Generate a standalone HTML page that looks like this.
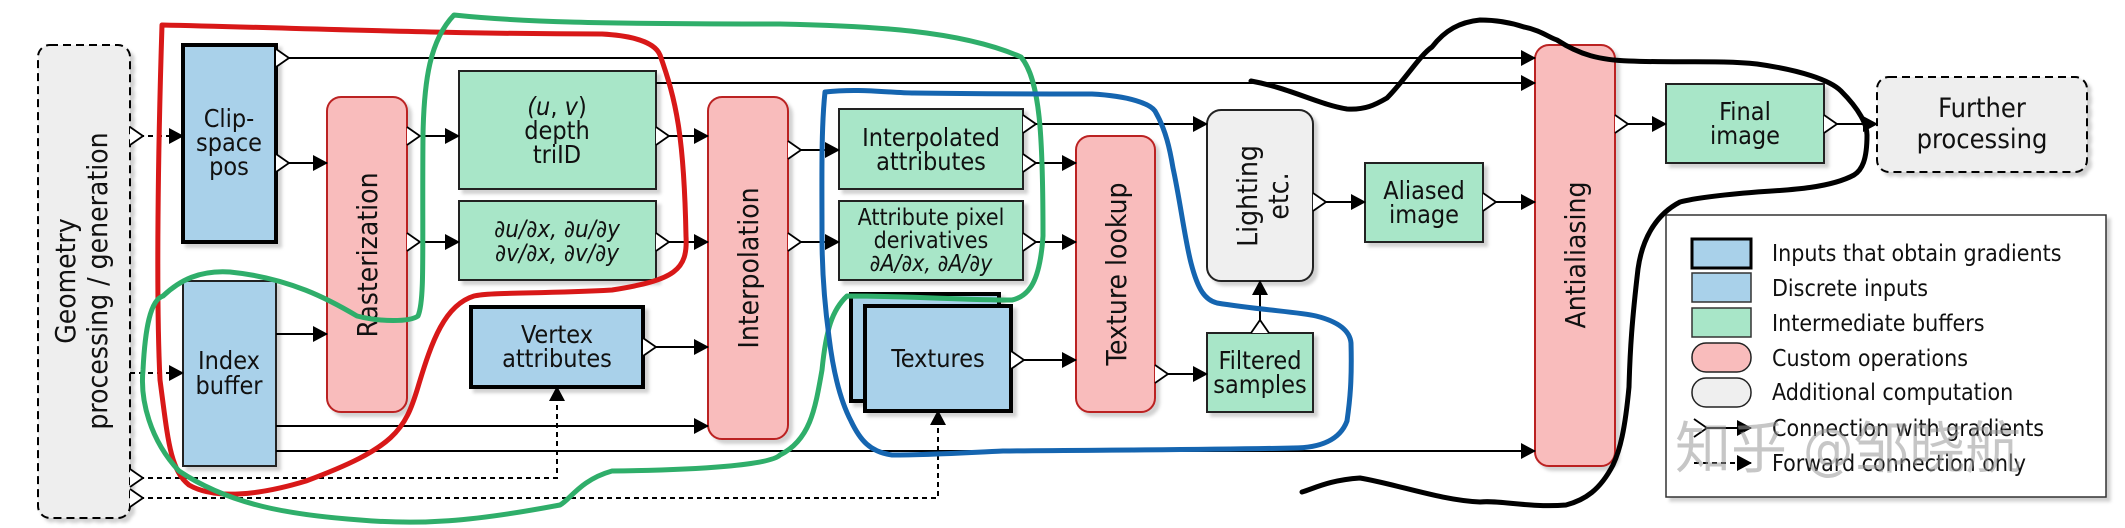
<!DOCTYPE html>
<html><head><meta charset="utf-8"><style>
html,body{margin:0;padding:0;background:#fff;}
svg{display:block;}
text{font-family:"DejaVu Sans Condensed","DejaVu Sans","Liberation Sans",sans-serif;fill:#111;}
</style></head><body>
<svg width="2125" height="528" viewBox="0 0 2125 528" xmlns="http://www.w3.org/2000/svg">
<defs>
<marker id="ah" markerUnits="userSpaceOnUse" markerWidth="16" markerHeight="16" refX="14" refY="8" orient="auto"><path d="M0,0 L15,8 L0,16 z" fill="#000"/></marker>
<marker id="os" markerUnits="userSpaceOnUse" markerWidth="16" markerHeight="20" refX="1" refY="10" orient="auto"><path d="M1,1 L14,10 L1,19" fill="#fff" stroke="#000" stroke-width="1.8"/></marker>
<filter id="sh" x="-10%" y="-10%" width="130%" height="130%"><feDropShadow dx="4" dy="4" stdDeviation="1.5" flood-color="#000" flood-opacity="0.18"/></filter>
</defs>

<g filter="url(#sh)">
<rect x="38" y="45" width="92" height="473" rx="12" fill="#eee" stroke="#000" stroke-width="2" stroke-dasharray="8,5"/>
<rect x="183" y="45" width="93" height="197" fill="#a9d1ea" stroke="#000" stroke-width="4"/>
<rect x="183" y="281" width="93" height="185" fill="#a9d1ea" stroke="#222" stroke-width="2"/>
<rect x="327" y="97" width="80" height="315" rx="14" fill="#f9bcbc" stroke="#b22" stroke-width="2"/>
<rect x="459" y="71" width="197" height="118" fill="#a8e6c8" stroke="#222" stroke-width="2"/>
<rect x="459" y="201" width="197" height="79" fill="#a8e6c8" stroke="#222" stroke-width="2"/>
<rect x="471" y="307" width="172" height="80" fill="#a9d1ea" stroke="#000" stroke-width="4"/>
<rect x="708" y="97" width="80" height="342" rx="14" fill="#f9bcbc" stroke="#b22" stroke-width="2"/>
<rect x="839" y="109" width="184" height="80" fill="#a8e6c8" stroke="#222" stroke-width="2"/>
<rect x="839" y="201" width="184" height="79" fill="#a8e6c8" stroke="#222" stroke-width="2"/>
<rect x="851" y="294" width="148" height="107" fill="#a9d1ea" stroke="#000" stroke-width="4"/>
<rect x="865" y="306" width="146" height="105" fill="#a9d1ea" stroke="#000" stroke-width="4"/>
<rect x="1076" y="136" width="79" height="276" rx="14" fill="#f9bcbc" stroke="#b22" stroke-width="2"/>
<rect x="1207" y="110" width="106" height="171" rx="14" fill="#efefef" stroke="#222" stroke-width="2"/>
<rect x="1207" y="333" width="106" height="79" fill="#a8e6c8" stroke="#222" stroke-width="2"/>
<rect x="1365" y="163" width="118" height="79" fill="#a8e6c8" stroke="#222" stroke-width="2"/>
<rect x="1535" y="45" width="80" height="421" rx="14" fill="#f9bcbc" stroke="#b22" stroke-width="2"/>
<rect x="1666" y="84" width="158" height="79" fill="#a8e6c8" stroke="#222" stroke-width="2"/>
<rect x="1877" y="77" width="210" height="95" rx="12" fill="#eee" stroke="#000" stroke-width="2" stroke-dasharray="8,5"/>
<rect x="1666" y="215" width="440" height="282" fill="#fff" stroke="#333" stroke-width="1.5"/>
</g>

<g font-size="25" text-anchor="middle">
<text x="229" y="127">Clip-</text><text x="229" y="151">space</text><text x="229" y="175">pos</text>
<text x="229" y="369">Index</text><text x="229" y="394">buffer</text>
<text x="557" y="115"><tspan font-style="italic">(u</tspan>, <tspan font-style="italic">v</tspan>)</text><text x="557" y="139">depth</text><text x="557" y="163">triID</text>
<text x="557" y="237" font-style="italic" font-size="24">∂u/∂x, ∂u/∂y</text><text x="557" y="261" font-style="italic" font-size="24">∂v/∂x, ∂v/∂y</text>
<text x="557" y="343">Vertex</text><text x="557" y="367">attributes</text>
<text x="931" y="146">Interpolated</text><text x="931" y="170">attributes</text>
<text x="931" y="225" font-size="23">Attribute pixel</text><text x="931" y="248" font-size="23">derivatives</text><text x="931" y="271" font-style="italic" font-size="23">∂A/∂x, ∂A/∂y</text>
<text x="938" y="367">Textures</text>
<text x="1260" y="369">Filtered</text><text x="1260" y="393">samples</text>
<text x="1424" y="199">Aliased</text><text x="1424" y="223">image</text>
<text x="1745" y="120">Final</text><text x="1745" y="144">image</text>
<text x="1982" y="117" font-size="27">Further</text><text x="1982" y="148" font-size="27">processing</text>
</g>
<g font-size="28" text-anchor="middle" font-family="DejaVu Sans,sans-serif">
<text transform="translate(75,281) rotate(-90)">Geometry</text>
<text transform="translate(107,281) rotate(-90)">processing / generation</text>
<text transform="translate(377,255) rotate(-90)">Rasterization</text>
<text transform="translate(758,268) rotate(-90)">Interpolation</text>
<text transform="translate(1126,274) rotate(-90)">Texture lookup</text>
<text transform="translate(1257,196) rotate(-90)">Lighting</text>
<text transform="translate(1288,196) rotate(-90)">etc.</text>
<text transform="translate(1585,255) rotate(-90)">Antialiasing</text>
</g>

<g stroke="#000" stroke-width="2" fill="none">
<line x1="276" y1="58" x2="1535" y2="58" marker-start="url(#os)" marker-end="url(#ah)"/>
<line x1="656" y1="83" x2="1535" y2="83" marker-end="url(#ah)"/>
<line x1="276" y1="163" x2="327" y2="163" marker-start="url(#os)" marker-end="url(#ah)"/>
<line x1="407" y1="136" x2="459" y2="136" marker-start="url(#os)" marker-end="url(#ah)"/>
<line x1="407" y1="242" x2="459" y2="242" marker-start="url(#os)" marker-end="url(#ah)"/>
<line x1="656" y1="136" x2="708" y2="136" marker-start="url(#os)" marker-end="url(#ah)"/>
<line x1="656" y1="242" x2="708" y2="242" marker-start="url(#os)" marker-end="url(#ah)"/>
<line x1="276" y1="334" x2="327" y2="334" marker-end="url(#ah)"/>
<line x1="643" y1="347" x2="708" y2="347" marker-start="url(#os)" marker-end="url(#ah)"/>
<line x1="276" y1="426" x2="708" y2="426" marker-end="url(#ah)"/>
<line x1="276" y1="451" x2="1535" y2="451" marker-end="url(#ah)"/>
<line x1="788" y1="150" x2="839" y2="150" marker-start="url(#os)" marker-end="url(#ah)"/>
<line x1="788" y1="242" x2="839" y2="242" marker-start="url(#os)" marker-end="url(#ah)"/>
<line x1="1023" y1="124" x2="1207" y2="124" marker-start="url(#os)" marker-end="url(#ah)"/>
<line x1="1023" y1="163" x2="1076" y2="163" marker-start="url(#os)" marker-end="url(#ah)"/>
<line x1="1023" y1="242" x2="1076" y2="242" marker-start="url(#os)" marker-end="url(#ah)"/>
<line x1="1011" y1="360" x2="1076" y2="360" marker-start="url(#os)" marker-end="url(#ah)"/>
<line x1="1155" y1="374" x2="1207" y2="374" marker-start="url(#os)" marker-end="url(#ah)"/>
<line x1="1260" y1="333" x2="1260" y2="281" marker-start="url(#os)" marker-end="url(#ah)"/>
<line x1="1313" y1="202" x2="1365" y2="202" marker-start="url(#os)" marker-end="url(#ah)"/>
<line x1="1483" y1="202" x2="1535" y2="202" marker-start="url(#os)" marker-end="url(#ah)"/>
<line x1="1615" y1="124" x2="1666" y2="124" marker-start="url(#os)" marker-end="url(#ah)"/>
<line x1="1824" y1="124" x2="1877" y2="124" marker-start="url(#os)" marker-end="url(#ah)"/>
<g stroke-dasharray="5,4">
<line x1="130" y1="136" x2="183" y2="136" marker-start="url(#os)" marker-end="url(#ah)"/>
<line x1="130" y1="373" x2="183" y2="373" marker-end="url(#ah)"/>
<polyline points="130,478 557,478 557,387" marker-start="url(#os)" marker-end="url(#ah)"/>
<polyline points="130,498 938,498 938,411" marker-start="url(#os)" marker-end="url(#ah)"/>
</g>
</g>

<rect x="1692" y="239" width="59" height="29" fill="#a9d1ea" stroke="#000" stroke-width="3"/>
<rect x="1692" y="273" width="59" height="29" fill="#a9d1ea" stroke="#333" stroke-width="1.5"/>
<rect x="1692" y="308" width="59" height="29" fill="#a8e6c8" stroke="#333" stroke-width="1.5"/>
<rect x="1692" y="343" width="59" height="29" rx="14" fill="#f9bcbc" stroke="#222" stroke-width="1.5"/>
<rect x="1692" y="378" width="59" height="29" rx="14" fill="#efefef" stroke="#222" stroke-width="1.5"/>
<g stroke="#000" stroke-width="2" fill="none">
<line x1="1694" y1="428" x2="1751" y2="428" marker-start="url(#os)" marker-end="url(#ah)"/>
<line x1="1694" y1="463" x2="1751" y2="463" stroke-dasharray="5,4" marker-end="url(#ah)"/>
</g>
<g font-size="23">
<text x="1772" y="261">Inputs that obtain gradients</text>
<text x="1772" y="296">Discrete inputs</text>
<text x="1772" y="331">Intermediate buffers</text>
<text x="1772" y="366">Custom operations</text>
<text x="1772" y="400">Additional computation</text>
<text x="1772" y="436">Connection with gradients</text>
<text x="1772" y="471">Forward connection only</text>
</g>
<text x="1675" y="468" font-size="56" opacity="0.55" style="fill:#999" font-family="Noto Sans CJK SC,sans-serif">知乎 @邹晓航</text>

<g fill="none" stroke-width="5" stroke-linejoin="round" stroke-linecap="round">
<path stroke="#d81818" d="M162,25 C300,28 450,34 602,34 C640,36 656,45 660,55 C676,100 684,135 686,236 C688,270 675,280 612,290 C540,294 490,292 474,296 C445,305 432,340 418,387 C405,430 395,448 306,481 C260,495 215,500 189,485 C170,470 168,440 160,380 C156,300 158,150 162,25 Z"/>
<path stroke="#2fae6a" d="M454,15 C520,22 600,24 780,24 C870,26 960,30 1021,57 C1040,80 1043,135 1043,236 C1040,280 1030,296 1012,300 C960,300 914,296 847,296 C832,310 826,330 822,370 C815,410 810,440 780,455 C770,465 700,470 612,471 C580,480 570,500 560,505 C470,522 420,525 360,520 C290,515 230,505 179,471 C150,440 140,400 143,370 C145,330 150,300 163,296 C180,280 200,270 230,272 C290,278 330,300 357,316 C380,322 410,322 418,316 C425,300 422,250 423,135 C424,80 430,40 454,15 Z"/>
<path stroke="#1565b0" d="M825,92 C860,88 890,93 914,93 C980,94 1040,94 1092,94 C1130,96 1150,104 1155,111 C1166,130 1170,150 1173,168 C1180,200 1185,240 1191,263 C1198,290 1205,300 1217,303 C1260,310 1300,312 1316,316 C1340,322 1350,332 1351,343 C1352,380 1350,400 1347,421 C1340,440 1320,448 1293,448 C1200,450 1100,450 1003,451 C960,453 930,455 892,455 C870,452 860,440 851,421 C840,400 833,370 829,337 C824,300 822,270 822,236 C822,180 821,130 825,92 Z"/>
<path stroke="#000" d="M1251,81 C1290,88 1320,105 1347,109 C1365,110 1375,105 1387,98 C1405,80 1420,55 1432,47 C1445,30 1460,22 1480,20 C1500,20 1515,24 1524,27 C1540,30 1550,38 1557,40 C1580,55 1600,60 1629,61 C1680,63 1720,60 1757,64 C1800,70 1830,80 1841,91 C1860,110 1867,125 1867,135 C1867,160 1862,170 1854,175 C1830,188 1790,190 1757,192 C1720,195 1695,198 1680,202 C1655,215 1642,240 1638,269 C1632,320 1630,350 1629,387 C1625,430 1620,450 1613,465 C1600,490 1585,500 1566,505 C1530,508 1500,500 1480,502 C1440,500 1400,485 1360,478 C1330,480 1315,488 1302,492"/>
</g>
</svg>
</body></html>
